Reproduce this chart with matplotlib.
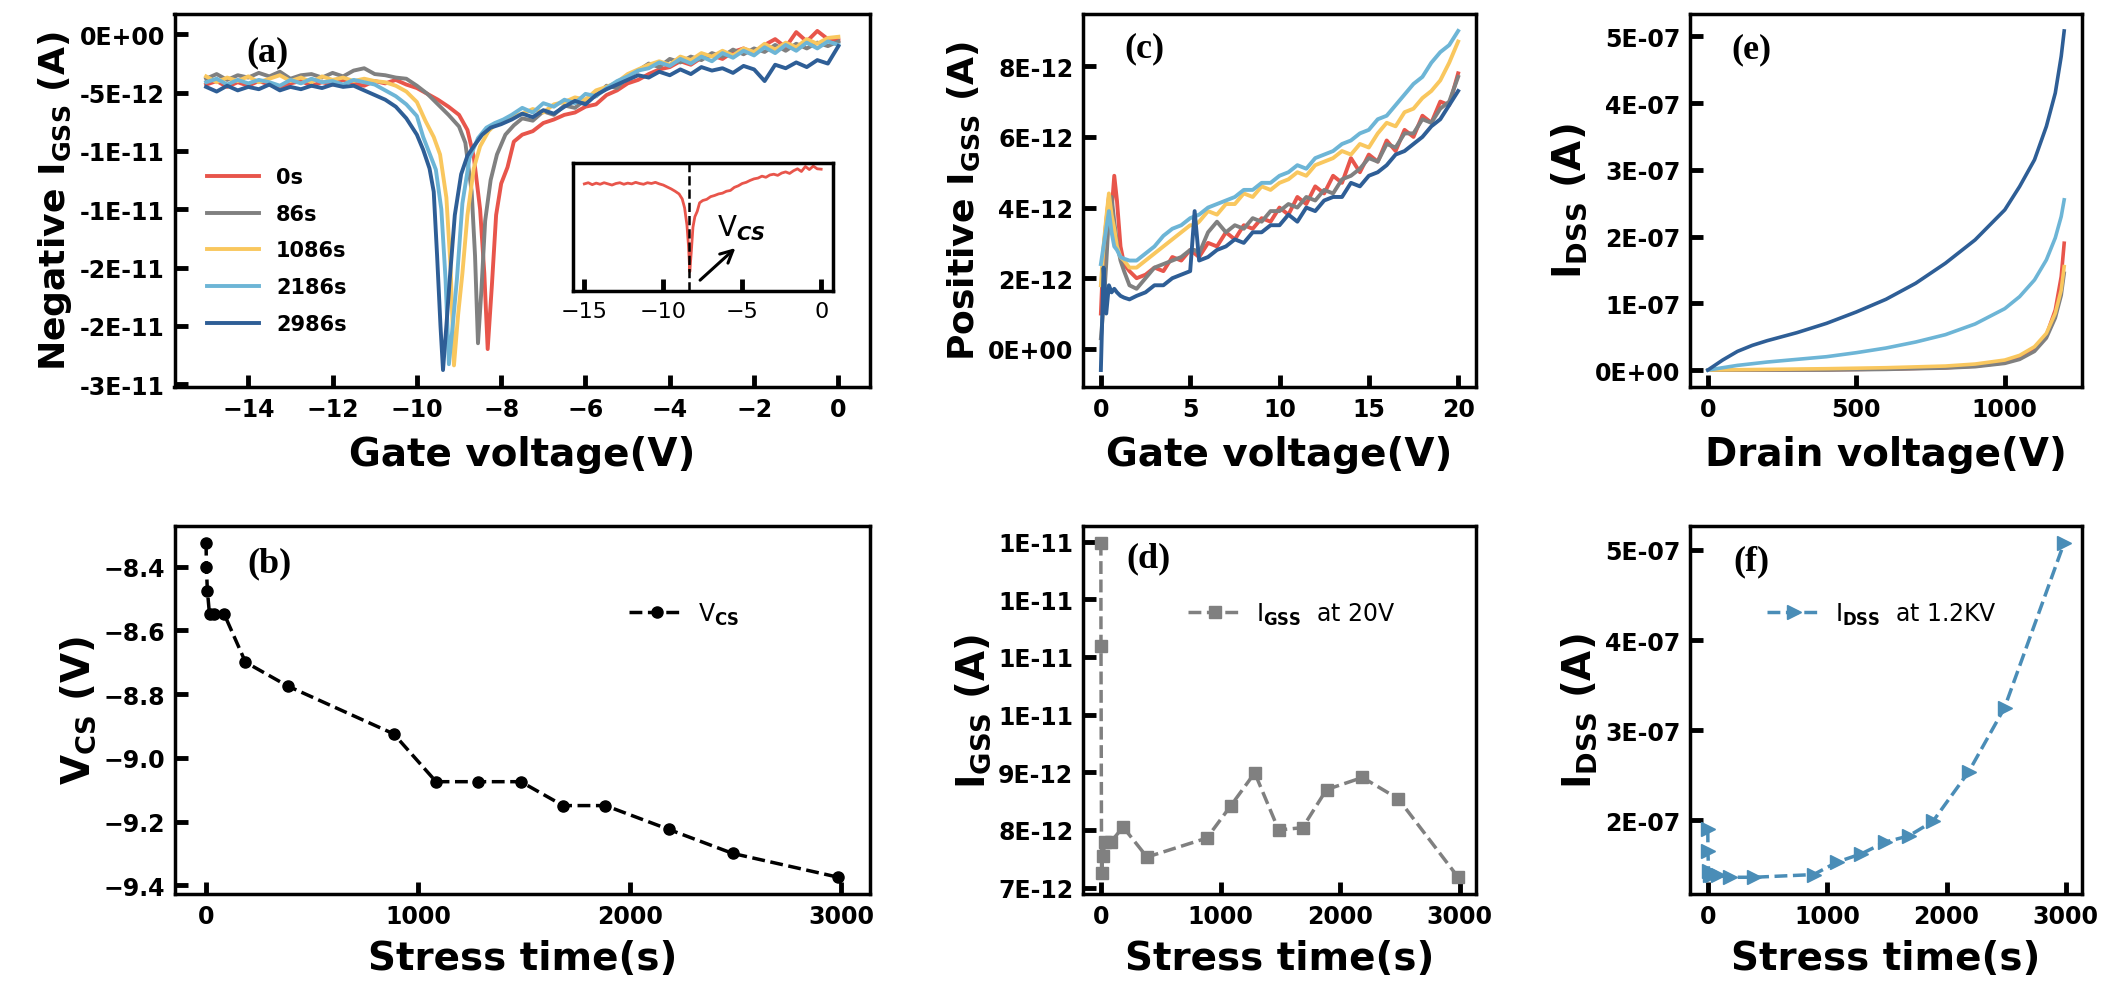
import numpy as np
import matplotlib
matplotlib.use("Agg")
import matplotlib.pyplot as plt
from matplotlib.ticker import MultipleLocator, FormatStrFormatter, FixedLocator, FixedFormatter

plt.rcParams['font.family'] = 'DejaVu Sans'
plt.rcParams['font.weight'] = 'bold'
plt.rcParams['axes.labelweight'] = 'bold'
plt.rcParams['mathtext.fontset'] = 'dejavusans'

# ---------------- data ----------------
labels = ['0s', '86s', '1086s', '2186s', '2986s']
colors = ['#E8554B', '#808080', '#F9C75E', '#6DB5D6', '#2E5E96']

# (a) negative gate leakage, (V, I in 1e-12 A)
neg_0s = [(-15, -4.3), (-14.75, -4.0), (-14.5, -4.5), (-14.25, -4.1), (-14, -4.4), (-13.75, -4.0),
          (-13.5, -4.3), (-13.25, -4.6), (-13, -4.2), (-12.75, -4.0), (-12.5, -4.4), (-12.25, -4.1),
          (-12, -4.3), (-11.75, -3.9), (-11.5, -4.2), (-11.25, -4.4), (-11, -4.0), (-10.75, -4.2),
          (-10.5, -3.9), (-10.25, -4.3), (-10, -4.6), (-9.75, -5.1), (-9.5, -5.6), (-9.25, -6.2),
          (-9.0, -6.9), (-8.8, -8.2), (-8.65, -10.5), (-8.5, -15.0), (-8.4, -20.5), (-8.32, -27.0),
          (-8.22, -21.5), (-8.12, -15.5), (-8.0, -12.8), (-7.85, -11.4), (-7.7, -9.2), (-7.5, -8.6),
          (-7.25, -8.3), (-7.0, -7.6), (-6.75, -7.3), (-6.5, -6.9), (-6.25, -6.7), (-6.0, -6.2),
          (-5.75, -6.0), (-5.5, -5.2), (-5.25, -4.8), (-5.0, -4.2), (-4.75, -3.9), (-4.5, -3.4),
          (-4.25, -3.0), (-4.0, -2.8), (-3.75, -2.3), (-3.5, -2.6), (-3.25, -2.0), (-3.0, -1.8),
          (-2.75, -2.1), (-2.5, -1.5), (-2.25, -1.2), (-2.0, -1.6), (-1.75, -0.9), (-1.5, -0.4),
          (-1.25, -1.1), (-1.0, 0.2), (-0.75, -0.6), (-0.5, 0.3), (-0.25, -0.4), (0, -0.5)]
neg_86s = [(-15, -3.8), (-14.75, -3.4), (-14.5, -3.9), (-14.25, -3.5), (-14, -3.7), (-13.75, -3.3),
           (-13.5, -3.6), (-13.25, -3.2), (-13, -3.8), (-12.75, -3.5), (-12.5, -3.4), (-12.25, -3.7),
           (-12, -3.3), (-11.75, -3.6), (-11.5, -3.1), (-11.25, -2.9), (-11, -3.4), (-10.75, -3.5),
           (-10.5, -3.7), (-10.25, -3.8), (-10, -4.4), (-9.75, -5.1), (-9.5, -6.0), (-9.25, -6.9),
           (-9.0, -7.9), (-8.85, -9.3), (-8.7, -13.5), (-8.62, -19.0), (-8.55, -26.5), (-8.47, -22.0),
           (-8.38, -16.0), (-8.25, -12.5), (-8.1, -10.3), (-7.9, -8.6), (-7.7, -7.8), (-7.5, -7.2),
           (-7.25, -7.4), (-7.0, -6.6), (-6.75, -6.9), (-6.5, -6.1), (-6.25, -6.3), (-6.0, -5.6),
           (-5.75, -5.3), (-5.5, -4.4), (-5.25, -4.6), (-5.0, -3.6), (-4.75, -3.1), (-4.5, -2.5),
           (-4.25, -2.8), (-4.0, -2.1), (-3.75, -2.4), (-3.5, -1.9), (-3.25, -2.2), (-3.0, -1.6),
           (-2.75, -1.9), (-2.5, -1.3), (-2.25, -1.7), (-2.0, -1.2), (-1.75, -1.5), (-1.5, -0.9),
           (-1.25, -1.4), (-1.0, -0.8), (-0.75, -1.2), (-0.5, -0.7), (-0.25, -1.0), (0, -0.6)]
neg_1086s = [(-15, -3.6), (-14.75, -4.1), (-14.5, -3.7), (-14.25, -4.0), (-14, -3.6), (-13.75, -4.1),
             (-13.5, -3.8), (-13.25, -3.5), (-13, -4.0), (-12.75, -3.7), (-12.5, -4.1), (-12.25, -3.6),
             (-12, -3.9), (-11.75, -3.7), (-11.5, -4.0), (-11.25, -3.8), (-11, -4.0), (-10.75, -4.1),
             (-10.5, -4.4), (-10.25, -4.9), (-10.0, -5.8), (-9.8, -7.4), (-9.6, -8.8), (-9.45, -10.3),
             (-9.3, -14.0), (-9.2, -20.0), (-9.12, -28.4), (-9.02, -24.0), (-8.92, -20.5), (-8.8, -15.5),
             (-8.65, -11.5), (-8.5, -9.6), (-8.3, -8.3), (-8.1, -7.6), (-7.9, -7.3), (-7.7, -7.0),
             (-7.5, -6.8), (-7.25, -6.4), (-7.0, -6.7), (-6.75, -6.0), (-6.5, -5.8), (-6.25, -5.4),
             (-6.0, -5.6), (-5.75, -4.8), (-5.5, -4.5), (-5.25, -4.1), (-5.0, -3.4), (-4.75, -3.0),
             (-4.5, -2.6), (-4.25, -2.3), (-4.0, -2.6), (-3.75, -1.9), (-3.5, -2.2), (-3.25, -1.6),
             (-3.0, -1.9), (-2.75, -1.4), (-2.5, -1.8), (-2.25, -1.2), (-2.0, -1.5), (-1.75, -0.8),
             (-1.5, -1.3), (-1.25, -0.7), (-1.0, -1.1), (-0.75, -0.4), (-0.5, -0.8), (-0.25, -0.3), (0, -0.2)]
neg_2186s = [(-15, -4.1), (-14.75, -3.8), (-14.5, -4.3), (-14.25, -3.9), (-14, -4.2), (-13.75, -3.9),
             (-13.5, -4.1), (-13.25, -4.4), (-13, -3.9), (-12.75, -4.2), (-12.5, -3.8), (-12.25, -4.1),
             (-12, -4.0), (-11.75, -4.3), (-11.5, -3.9), (-11.25, -4.1), (-11.0, -4.3), (-10.75, -4.8),
             (-10.5, -5.3), (-10.25, -6.0), (-10.0, -7.0), (-9.85, -8.8), (-9.7, -10.2), (-9.55, -11.6),
             (-9.42, -15.0), (-9.32, -21.0), (-9.24, -28.3), (-9.15, -25.0), (-9.05, -21.0), (-8.92, -14.5),
             (-8.75, -10.6), (-8.55, -8.9), (-8.35, -8.0), (-8.15, -7.6), (-7.95, -7.3), (-7.75, -6.9),
             (-7.5, -6.3), (-7.25, -6.7), (-7.0, -5.9), (-6.75, -6.2), (-6.5, -5.6), (-6.25, -5.9),
             (-6.0, -5.1), (-5.75, -5.3), (-5.5, -4.6), (-5.25, -4.0), (-5.0, -3.6), (-4.75, -3.1),
             (-4.5, -2.9), (-4.25, -2.4), (-4.0, -2.7), (-3.75, -2.1), (-3.5, -2.5), (-3.25, -1.9),
             (-3.0, -2.3), (-2.75, -1.6), (-2.5, -2.0), (-2.25, -1.4), (-2.0, -1.8), (-1.75, -1.1),
             (-1.5, -1.6), (-1.25, -0.9), (-1.0, -1.4), (-0.75, -0.7), (-0.5, -1.2), (-0.25, -0.6), (0, -0.9)]
neg_2986s = [(-15, -4.5), (-14.75, -4.9), (-14.5, -4.4), (-14.25, -4.8), (-14, -4.5), (-13.75, -4.7),
             (-13.5, -4.3), (-13.25, -4.8), (-13, -4.5), (-12.75, -4.7), (-12.5, -4.4), (-12.25, -4.6),
             (-12, -4.3), (-11.75, -4.5), (-11.5, -4.4), (-11.25, -4.8), (-11.0, -5.2), (-10.75, -5.6),
             (-10.5, -6.2), (-10.25, -7.2), (-10.0, -8.6), (-9.85, -9.9), (-9.7, -11.5), (-9.6, -13.5),
             (-9.52, -19.0), (-9.44, -25.0), (-9.38, -28.8), (-9.3, -25.0), (-9.22, -21.0), (-9.1, -15.5),
             (-8.95, -12.0), (-8.8, -10.4), (-8.65, -9.6), (-8.45, -8.6), (-8.25, -8.0), (-8.0, -7.7),
             (-7.75, -7.3), (-7.5, -6.8), (-7.25, -7.1), (-7.0, -6.5), (-6.75, -6.8), (-6.5, -6.2),
             (-6.25, -5.7), (-6.0, -6.0), (-5.75, -5.2), (-5.5, -4.7), (-5.25, -4.3), (-5.0, -3.9),
             (-4.75, -3.5), (-4.5, -3.7), (-4.25, -3.2), (-4.0, -3.5), (-3.75, -3.0), (-3.5, -3.4),
             (-3.25, -2.8), (-3.0, -3.1), (-2.75, -2.9), (-2.5, -3.3), (-2.25, -2.7), (-2.0, -3.0),
             (-1.75, -4.0), (-1.5, -2.6), (-1.25, -2.9), (-1.0, -2.4), (-0.75, -2.8), (-0.5, -2.2),
             (-0.25, -2.5), (0, -1.0)]
vcs_mark = -8.35
neg_ticks = [0, -5, -10, -15, -20, -25, -30]  # 1e-12 A
neg_tick_labels = ['0E+00', '-5E-12', '-1E-11', '-1E-11', '-2E-11', '-2E-11', '-3E-11']

# (c) positive gate leakage, I in 1e-12 A
vg_pos = [0, 0.15, 0.3, 0.45, 0.6, 0.75, 0.9, 1.1, 1.3, 1.6,
          2.0, 2.5, 3.0, 3.5, 4.0, 4.5, 5.0, 5.25,
          5.5, 6.0, 6.5, 7.0, 7.5, 8.0, 8.5, 9.0, 9.5, 10.0, 10.5, 11.0, 11.5, 12.0, 12.5,
          13.0, 13.5, 14.0, 14.5, 15.0, 15.5, 16.0, 16.5, 17.0, 17.5, 18.0, 18.5, 19.0, 19.5, 20.0]
pos_0s = [1.0, 2.8, 3.6, 4.3, 3.9, 4.9, 4.2, 2.9, 2.4, 2.2,
          2.0, 2.1, 2.3, 2.2, 2.6, 2.5, 2.8, 2.7,
          2.6, 3.0, 2.9, 3.3, 3.1, 3.5, 3.4, 3.7, 3.6, 4.0, 3.8, 4.3, 4.1, 4.6, 4.4,
          4.9, 4.7, 5.4, 5.0, 5.5, 5.3, 5.9, 5.6, 6.2, 6.0, 6.6, 6.4, 7.0, 6.9, 7.8]
pos_86s = [0.3, 1.2, 2.4, 3.8, 4.3, 3.6, 3.0, 2.5, 2.2, 1.8,
           1.7, 2.0, 2.3, 2.4, 2.5, 2.6, 2.8, 2.8,
           2.7, 3.3, 3.6, 3.3, 3.5, 3.4, 3.7, 3.6, 3.9, 3.9, 4.1, 4.0, 4.3, 4.2, 4.5,
           4.4, 4.8, 4.9, 5.1, 5.4, 5.3, 5.8, 5.7, 6.1, 6.1, 6.5, 6.4, 6.8, 7.0, 7.7]
pos_1086s = [1.8, 2.9, 3.7, 4.4, 3.8, 3.4, 2.9, 2.6, 2.5, 2.3,
             2.3, 2.5, 2.7, 2.9, 3.1, 3.3, 3.5, 3.5,
             3.6, 3.9, 3.8, 4.1, 4.1, 4.4, 4.3, 4.6, 4.5, 4.7, 4.8, 5.0, 4.9, 5.2, 5.3,
             5.4, 5.6, 5.5, 5.8, 5.7, 6.1, 6.4, 6.3, 6.7, 6.8, 7.1, 7.3, 7.6, 8.1, 8.7]
pos_2186s = [2.4, 2.9, 3.4, 3.9, 3.3, 2.9, 2.8, 2.6, 2.55, 2.5,
             2.5, 2.7, 2.9, 3.2, 3.4, 3.5, 3.7, 3.75,
             3.8, 4.0, 4.1, 4.2, 4.3, 4.5, 4.5, 4.7, 4.7, 4.9, 5.0, 5.2, 5.1, 5.4, 5.5,
             5.6, 5.8, 5.9, 6.1, 6.2, 6.5, 6.6, 6.9, 7.2, 7.5, 7.7, 8.1, 8.4, 8.6, 9.0]
pos_2986s = [-0.6, 2.3, 1.0, 1.8, 1.6, 1.7, 1.6, 1.5, 1.45, 1.4,
             1.5, 1.6, 1.8, 1.8, 2.0, 2.1, 2.2, 3.9,
             2.5, 2.6, 2.8, 2.9, 3.1, 3.0, 3.3, 3.3, 3.5, 3.5, 3.8, 3.6, 4.0, 3.9, 4.2,
             4.3, 4.3, 4.7, 4.6, 4.9, 5.0, 5.2, 5.5, 5.6, 5.8, 6.0, 6.3, 6.5, 6.9, 7.3]
pos_ticks = [0, 2, 4, 6, 8]  # 1e-12 A

# (e) drain leakage, (V, I in 1e-7 A)
idss_0s = [(0, 0), (400, 0.005), (600, 0.015), (800, 0.035), (900, 0.06), (1000, 0.11), (1050, 0.18),
           (1100, 0.3), (1140, 0.52), (1170, 0.9), (1190, 1.4), (1200, 1.9)]
idss_86s = [(0, 0), (400, 0.0), (600, 0.01), (800, 0.03), (900, 0.05), (1000, 0.1), (1050, 0.16),
            (1100, 0.28), (1140, 0.48), (1170, 0.78), (1190, 1.12), (1200, 1.45)]
idss_1086s = [(0, 0), (200, 0.01), (400, 0.02), (600, 0.035), (800, 0.06), (900, 0.09), (1000, 0.15),
              (1050, 0.22), (1100, 0.35), (1140, 0.55), (1170, 0.85), (1190, 1.2), (1200, 1.55)]
idss_2186s = [(0, 0), (100, 0.07), (200, 0.12), (300, 0.16), (400, 0.20), (500, 0.26), (600, 0.33),
              (700, 0.42), (800, 0.53), (900, 0.69), (1000, 0.92), (1050, 1.1), (1100, 1.35),
              (1140, 1.65), (1170, 1.98), (1190, 2.3), (1200, 2.55)]
idss_2986s = [(0, 0), (50, 0.15), (100, 0.28), (150, 0.37), (200, 0.44), (250, 0.50), (300, 0.56),
              (400, 0.70), (500, 0.87), (600, 1.06), (700, 1.30), (800, 1.60), (900, 1.95),
              (1000, 2.4), (1050, 2.75), (1100, 3.15), (1140, 3.65), (1170, 4.15), (1190, 4.7),
              (1200, 5.08)]

# (b), (d), (f) vs stress time
stress_t = [0, 1, 6, 16, 36, 86, 186, 386, 886, 1086, 1286, 1486, 1686, 1886, 2186, 2486, 2986]
vcs = [-8.325, -8.40, -8.475, -8.55, -8.55, -8.55, -8.70, -8.775, -8.925, -9.075, -9.075, -9.075,
       -9.15, -9.15, -9.225, -9.30, -9.375]
igss_20v = [12.98, 11.19, 7.26, 7.55, 7.80, 7.80, 8.05, 7.53, 7.86, 8.42, 8.99, 8.00, 8.04, 8.70,
            8.91, 8.54, 7.18]  # 1e-12 A
idss_1p2kv = [1.90, 1.66, 1.44, 1.40, 1.39, 1.39, 1.37, 1.37, 1.40, 1.54, 1.63, 1.76, 1.83, 1.99,
              2.54, 3.25, 5.08]  # 1e-7 A

# ---------------- figure ----------------
W, H = 2101, 1004
fig = plt.figure(figsize=(W / 100, H / 100), dpi=100)


def box(x0, y0, x1, y1):
    return [x0 / W, 1 - y1 / H, (x1 - x0) / W, (y1 - y0) / H]


ax_a = fig.add_axes(box(174.5, 15, 870, 388))
ax_c = fig.add_axes(box(1083, 15, 1476, 388))
ax_e = fig.add_axes(box(1690, 15, 2082, 388))
ax_b = fig.add_axes(box(174.5, 527, 870, 895))
ax_d = fig.add_axes(box(1083, 527, 1476, 895))
ax_f = fig.add_axes(box(1690, 527, 2082, 895))


def style(ax, xstep, ystep=None, yfmt=None):
    for s in ax.spines.values():
        s.set_linewidth(2.5)
    ax.tick_params(direction='in', length=9, width=3.5, labelsize=17,
                   top=False, right=False, pad=7)
    ax.xaxis.set_major_locator(MultipleLocator(xstep))
    if ystep:
        ax.yaxis.set_major_locator(MultipleLocator(ystep))
    if yfmt:
        ax.yaxis.set_major_formatter(FormatStrFormatter(yfmt))


def panel(ax, txt, x, y):
    ax.text(x, y, txt, transform=ax.transAxes, fontsize=26, family='Liberation Serif',
            fontweight='bold', ha='center', va='center')


E12 = 1e-12
E7 = 1e-7
leg_kw = dict(loc='center left', frameon=False, borderaxespad=0, borderpad=0,
              handlelength=2.3, handletextpad=0.6, prop={'size': 17, 'weight': 'normal'})

# (a)
for d, c, lab in zip([neg_0s, neg_86s, neg_1086s, neg_2186s, neg_2986s], colors, labels):
    v, i = np.array(d).T
    ax_a.plot(v, i * E12, color=c, lw=2.8, label=lab)
style(ax_a, 2)
ax_a.yaxis.set_major_locator(FixedLocator(np.array(neg_ticks) * E12))
ax_a.yaxis.set_major_formatter(FixedFormatter(neg_tick_labels))
ax_a.set_xlabel('Gate voltage(V)', fontsize=28, labelpad=10)
ax_a.set_ylabel(r'Negative I$_{\mathbf{GSS}}$ (A)', fontsize=26)
ax_a.legend(loc='center left', bbox_to_anchor=(0.047, 0.366), frameon=False, borderaxespad=0,
            borderpad=0, handlelength=2.5, handletextpad=0.8, labelspacing=0.8,
            prop={'size': 15, 'weight': 'bold'})
panel(ax_a, '(a)', 0.133, 0.898)

# inset
ins = fig.add_axes(box(572.5, 164, 833, 292))
v, i = np.array(neg_0s).T
ins.plot(v, i * E12, color=colors[0], lw=2)
ins.axvline(vcs_mark, color='black', ls='--', lw=1.8)
for s in ins.spines.values():
    s.set_linewidth(2.5)
ins.tick_params(direction='in', length=9, width=3.5, labelsize=16, left=False,
                labelleft=False, pad=7)
ins.xaxis.set_major_locator(MultipleLocator(5))
ins.set_xlim(ax_a.get_xlim())
ins.set_ylim(-3.2e-11, 1.1e-12)
for t in ins.get_xticklabels():
    t.set_fontweight('normal')
ins.annotate('', xy=(-5.3, 0.35), xycoords=('data', 'axes fraction'),
             xytext=(-7.8, 0.07), textcoords=('data', 'axes fraction'),
             arrowprops=dict(arrowstyle='->', lw=2.2, color='black', mutation_scale=22))
ins.text(-6.6, 0.5, r'V$_{\mathit{CS}}$', transform=ins.get_xaxis_transform(), fontsize=20,
         fontweight='normal', va='center', ha='left')

# (c)
for d, c in zip([pos_0s, pos_86s, pos_1086s, pos_2186s, pos_2986s], colors):
    ax_c.plot(vg_pos, np.array(d) * E12, color=c, lw=2.8)
style(ax_c, 5, yfmt='%.0E')
ax_c.yaxis.set_major_locator(FixedLocator(np.array(pos_ticks) * E12))
ax_c.set_xlabel('Gate voltage(V)', fontsize=28, labelpad=10)
ax_c.set_ylabel(r'Positive I$_{\mathbf{GSS}}$ (A)', fontsize=26)
panel(ax_c, '(c)', 0.157, 0.91)

# (e)
for d, c in zip([idss_0s, idss_86s, idss_1086s, idss_2186s, idss_2986s], colors):
    v, i = np.array(d).T
    ax_e.plot(v, i * E7, color=c, lw=2.6)
style(ax_e, 500, 1e-7, '%.0E')
ax_e.set_xlabel('Drain voltage(V)', fontsize=28, labelpad=10)
ax_e.set_ylabel(r'I$_{\mathbf{DSS}}$ (A)', fontsize=28)
panel(ax_e, '(e)', 0.158, 0.906)

# (b)
ax_b.plot(stress_t, vcs, '--', color='black', lw=2.5, marker='o', ms=8,
          label=r'V$_{\mathrm{CS}}$')
style(ax_b, 1000, 0.2)
ax_b.set_xlabel('Stress time(s)', fontsize=28, labelpad=8)
ax_b.set_ylabel(r'V$_{\mathbf{CS}}$ (V)', fontsize=28)
ax_b.legend(bbox_to_anchor=(0.654, 0.762), **leg_kw)
panel(ax_b, '(b)', 0.136, 0.90)

# (d)
ax_d.plot(stress_t, np.array(igss_20v) * E12, '--', color='#808080', lw=2.5, marker='s', ms=8,
          label=r'I$_{\mathrm{GSS}}$  at 20V')
style(ax_d, 1000, 1e-12, '%.0E')
ax_d.set_xlabel('Stress time(s)', fontsize=28, labelpad=8)
ax_d.set_ylabel(r'I$_{\mathbf{GSS}}$ (A)', fontsize=28)
ax_d.legend(bbox_to_anchor=(0.267, 0.762), **leg_kw)
panel(ax_d, '(d)', 0.166, 0.914)

# (f)
ax_f.plot(stress_t, np.array(idss_1p2kv) * E7, '--', color='#4A8DB7', lw=2.5, marker='>', ms=10,
          label=r'I$_{\mathrm{DSS}}$  at 1.2KV')
style(ax_f, 1000, 1e-7, '%.0E')
ax_f.set_xlabel('Stress time(s)', fontsize=28, labelpad=8)
ax_f.set_ylabel(r'I$_{\mathbf{DSS}}$ (A)', fontsize=28)
ax_f.legend(bbox_to_anchor=(0.196, 0.762), **leg_kw)
panel(ax_f, '(f)', 0.156, 0.906)

fig.savefig('out.png', dpi=100)
